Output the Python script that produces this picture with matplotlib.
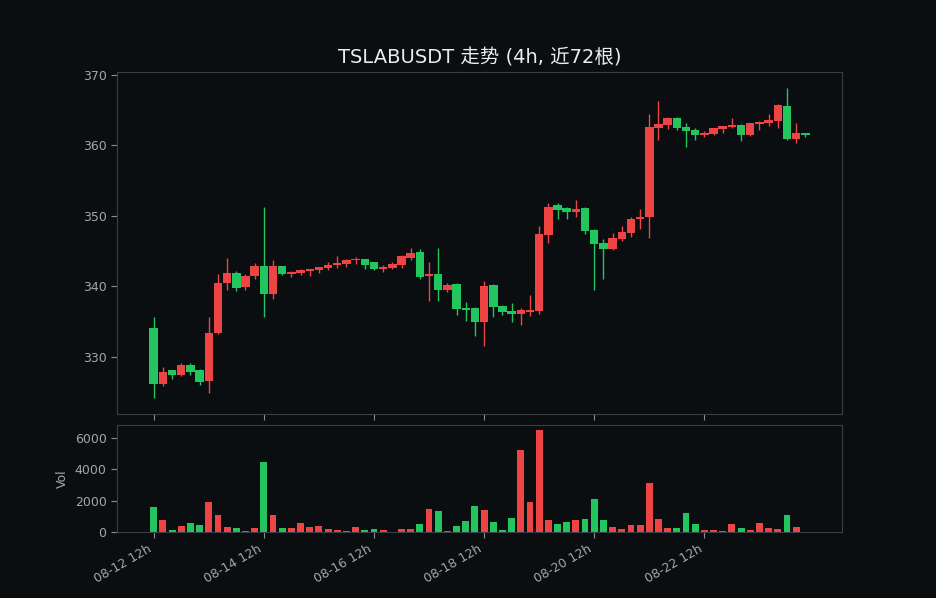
import matplotlib
matplotlib.use('Agg')
import matplotlib.pyplot as plt
import matplotlib.dates as mdates
import pandas as pd
import numpy as np

# 4h candles
opens = [334.1, 326.2, 328.1, 327.4, 328.8, 328.2, 326.6, 333.4, 340.5, 341.9,
         339.9, 341.5, 342.9, 338.9, 342.9, 341.7, 341.9, 342.2, 342.3, 342.6,
         343.1, 343.2, 343.7, 343.9, 343.4, 342.5, 342.6, 343.1, 344.0, 344.9,
         341.4, 341.8, 339.5, 340.4, 337.0, 336.9, 334.9, 340.2, 337.2, 336.5,
         336.1, 336.3, 336.5, 347.3, 351.5, 351.1, 350.5, 351.1, 348.0, 346.1,
         345.3, 346.7, 347.5, 349.5, 349.8, 362.5, 362.9, 363.9, 362.6, 362.2,
         361.4, 361.6, 362.3, 362.6, 362.9, 361.4, 363.0, 363.2, 363.5, 365.6,
         360.9, 361.8]
highs = [335.7, 328.5, 328.2, 329.2, 329.1, 328.3, 335.6, 341.8, 344.0, 342.2,
         341.8, 343.3, 351.3, 343.7, 342.9, 342.2, 342.5, 342.5, 342.8, 343.5,
         344.3, 343.9, 344.1, 343.9, 343.5, 343.1, 343.4, 344.4, 345.4, 345.3,
         343.5, 345.5, 340.5, 340.5, 337.8, 337.1, 340.7, 340.3, 337.3, 337.7,
         337.0, 338.8, 348.6, 351.8, 351.8, 351.3, 352.2, 351.2, 348.1, 346.7,
         347.5, 348.6, 349.9, 351.0, 364.5, 366.3, 364.0, 364.0, 363.2, 362.4,
         362.1, 362.5, 362.8, 363.9, 363.0, 363.2, 363.4, 364.4, 365.8, 368.2,
         363.2, 361.8]
lows = [324.1, 325.8, 326.8, 327.3, 327.5, 326.0, 324.9, 333.2, 339.5, 339.3,
        339.5, 341.1, 335.7, 338.2, 341.6, 341.3, 341.6, 341.5, 341.9, 342.3,
        342.6, 342.7, 343.2, 342.5, 342.3, 342.0, 342.5, 342.6, 343.8, 341.1,
        337.9, 337.9, 339.2, 335.9, 335.1, 333.0, 331.5, 335.6, 335.9, 334.9,
        334.5, 335.8, 336.1, 346.2, 349.6, 349.6, 349.8, 347.4, 339.5, 341.0,
        345.1, 346.5, 347.0, 348.1, 346.9, 360.7, 362.3, 362.2, 359.8, 360.8,
        361.2, 361.4, 361.7, 362.5, 360.6, 361.3, 362.2, 362.8, 362.5, 360.8,
        360.3, 361.2]
closes = [326.2, 327.8, 327.4, 328.8, 327.9, 326.5, 333.4, 340.5, 341.9, 339.8,
          341.5, 342.9, 338.9, 342.9, 341.8, 342.0, 342.3, 342.5, 342.7, 343.1,
          343.3, 343.8, 343.9, 343.0, 342.5, 342.7, 343.2, 344.3, 344.8, 341.3,
          341.8, 339.5, 340.2, 336.8, 336.7, 334.9, 340.0, 337.1, 336.4, 336.1,
          336.6, 336.6, 347.4, 351.3, 350.8, 350.5, 351.0, 347.8, 346.0, 345.3,
          346.8, 347.7, 349.6, 349.9, 362.6, 363.0, 363.9, 362.4, 362.0, 361.4,
          361.8, 362.5, 362.8, 362.9, 361.4, 363.2, 363.3, 363.6, 365.7, 360.9,
          361.8, 361.5]
volumes = [1600, 767, 128, 383, 575, 447, 1917, 1086, 320, 256,
           64, 256, 4473, 1086, 256, 256, 575, 320, 383, 192,
           128, 64, 320, 128, 192, 128, 30, 192, 192, 511,
           1470, 1342, 64, 383, 703, 1661, 1406, 639, 128, 895,
           5240, 1917, 6518, 767, 511, 639, 767, 831, 2109, 767,
           320, 192, 447, 447, 3131, 831, 256, 256, 1214, 511,
           128, 128, 64, 511, 256, 128, 575, 256, 192, 1086,
           320, 20]

symbol = 'TSLABUSDT'
times = pd.date_range('2025-08-12 12:00', periods=len(opens), freq='4h')
tick_days = ['2025-08-12 12:00', '2025-08-14 12:00', '2025-08-16 12:00',
             '2025-08-18 12:00', '2025-08-20 12:00', '2025-08-22 12:00']

BG = '#0b0e11'
UP = '#ef4444'
DOWN = '#22c55e'
EDGE = '#3a3f47'
TXT = '#a3a6ab'

plt.rcParams['font.family'] = ['DejaVu Sans', 'Noto Sans CJK SC']

fig = plt.figure(figsize=(9.36, 5.98), dpi=100, facecolor=BG)
ax = fig.add_axes([0.125, 0.3077, 0.7746, 0.5719], facecolor=BG)
axv = fig.add_axes([0.125, 0.1104, 0.7746, 0.1789], facecolor=BG, sharex=ax)

x = mdates.date2num(times)
o = np.array(opens); h = np.array(highs); l = np.array(lows); c = np.array(closes)
up = c >= o
cols = [UP if u else DOWN for u in up]
step = 4 / 24

ax.vlines(x, l, h, colors=cols, linewidth=1, zorder=2)
body = np.maximum(np.abs(c - o), 0.08)
ax.bar(x, body, bottom=np.minimum(o, c), width=step * 0.92, color=cols, zorder=3)

axv.bar(x, volumes, width=step * 0.75, color=cols)

ax.set_xlim(x[0] - 16 / 24, x[0] + 300 / 24)
ax.set_ylim(321.9, 370.4)
axv.set_ylim(0, 6840)
ax.set_yticks([330, 340, 350, 360, 370])
axv.set_yticks([0, 2000, 4000, 6000])

axv.set_xticks(mdates.date2num(pd.to_datetime(tick_days)))
axv.xaxis.set_major_formatter(mdates.DateFormatter('%m-%d %Hh'))
plt.setp(ax.get_xticklabels(), visible=False)
plt.setp(axv.get_xticklabels(), rotation=30, ha='right')

for a in (ax, axv):
    for s in a.spines.values():
        s.set_color(EDGE)
    a.tick_params(colors=TXT, labelsize=9, length=4, color='#8a8d92')

ax.set_title(f'{symbol} 走势 (4h, 近72根)', color='#eaecef', fontsize=14)
axv.set_ylabel('Vol', color=TXT, fontsize=9)

fig.savefig('out.png', facecolor=BG)
